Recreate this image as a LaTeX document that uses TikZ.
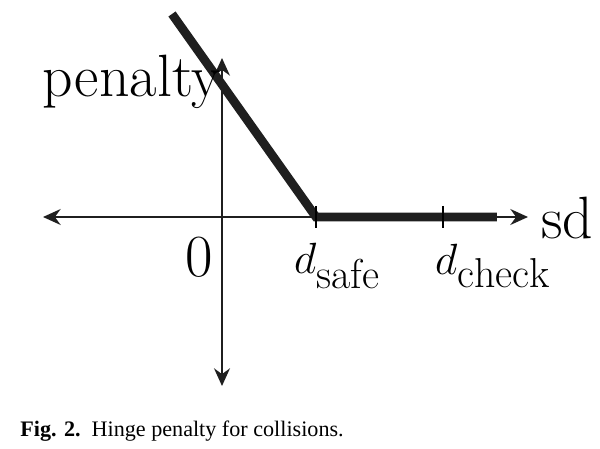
\documentclass[tikz,border=0pt]{standalone}
\usepackage{fontspec}
\newfontfamily\capfont{Liberation Serif}
\usetikzlibrary{arrows.meta}
\begin{document}
\begin{tikzpicture}[x=0.02cm,y=-0.02cm,
  ax/.style={line width=1.6pt,draw=black!88,-{Stealth[length=10pt,width=9pt]}},
  big/.style={font=\fontsize{34}{40}\selectfont,inner sep=0pt}]
\useasboundingbox (0,0) rectangle (600,449);
\coordinate (o) at (222,217);
\coordinate (l) at (43,217); \coordinate (r) at (528,217);
\coordinate (u) at (222,58); \coordinate (d) at (222,386);
\draw[ax] (o) -- (l); \draw[ax] (o) -- (r);
\draw[ax] (o) -- (u); \draw[ax] (o) -- (d);
\coordinate (top) at (172,14); \coordinate (ks) at (316,217); \coordinate (end) at (497,217);
\draw[line width=5pt,draw=black!88] (top) -- (ks) -- (end);
\draw[line width=1.6pt] (316,206) -- (316,228) (443,206) -- (443,228);
\node[big,anchor=east] (pen) at (221,82) {penalty};
\node[big] (zero) at (199,257) {0};
\node[big] (ds) at (337,266) {$d_{\mathrm{safe}}$};
\node[big] (dc) at (493,266) {$d_{\mathrm{check}}$};
\node[big] (sd) at (567,218) {sd};
\node[anchor=west,inner sep=0pt,font=\capfont\fontsize{12.6}{14}\selectfont] (cap) at (20,431) {\textbf{Fig. 2.}\enspace Hinge penalty for collisions.};
\end{tikzpicture}
\end{document}
